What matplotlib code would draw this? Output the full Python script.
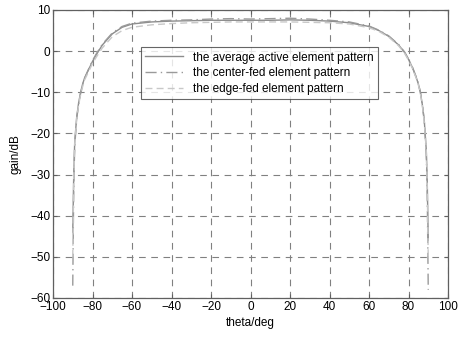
import numpy as np
import matplotlib
matplotlib.use("Agg")
import matplotlib.pyplot as plt

plt.rcParams['font.family'] = ['Liberation Sans', 'DejaVu Sans']

# angles (deg)
theta = [-90, -89.5, -89, -88, -87, -86, -85, -84, -82, -80, -78, -75, -70,
         -65, -60, -50, -40, -30, -20, -10, 0, 10, 20, 30, 40, 50, 60, 65,
         70, 75, 78, 80, 82, 84, 85, 86, 87, 88, 89, 89.5, 90]

avg_gain = [-44, -30, -22, -16, -12.5, -10, -8, -6.5, -4.5, -2.5, -0.8, 1.5,
            4.2, 5.8, 6.6, 7.1, 7.3, 7.4, 7.5, 7.5, 7.5, 7.5, 7.6, 7.5, 7.3,
            6.9, 6.0, 5.0, 3.6, 1.5, -0.3, -2.0, -4.0, -6.5, -8.0, -10, -13,
            -17, -24, -32, -46]

center_gain = [-57, -33, -23, -16.5, -12.8, -10.2, -8.2, -6.6, -4.4, -2.3,
               -0.6, 1.7, 4.4, 6.0, 6.8, 7.3, 7.5, 7.6, 7.8, 7.9, 7.8, 7.9,
               8.0, 7.8, 7.5, 7.1, 6.1, 5.1, 3.7, 1.6, -0.2, -1.9, -3.9,
               -6.4, -7.9, -9.9, -12.9, -17, -25, -35, -58]

edge_gain = [-50, -31, -22.5, -16.5, -13, -10.5, -8.6, -7.0, -5.0, -3.0,
             -1.4, 0.8, 3.5, 5.0, 5.8, 6.4, 6.7, 6.9, 7.0, 7.1, 7.1, 7.1,
             7.1, 7.0, 6.9, 6.6, 5.7, 4.8, 3.4, 1.3, -0.5, -2.2, -4.2, -6.7,
             -8.2, -10.2, -13.2, -17.5, -24, -33, -50]

labels = ['the average active element pattern',
          'the center-fed element pattern',
          'the edge-fed element pattern']

fig = plt.figure(figsize=(4.74, 3.38), dpi=100)
ax = fig.add_axes([53 / 474, 40 / 338, 395 / 474, 288 / 338])

ax.plot(theta, avg_gain, color='#8c8c8c', lw=1.0, ls='-', label=labels[0])
ax.plot(theta, center_gain, color='#9a9a9a', lw=1.0, ls=(0, (8, 3, 1, 3)),
        label=labels[1])
ax.plot(theta, edge_gain, color='#c8c8c8', lw=1.0, ls=(0, (5, 3)),
        label=labels[2])

ax.set_xlim(-100, 100)
ax.set_ylim(-60, 10)
ax.set_xticks(np.arange(-100, 101, 20))
ax.set_yticks(np.arange(-60, 11, 10))
ax.grid(True, ls=(0, (6, 5)), color='#808080', lw=0.8)
ax.tick_params(direction='in', top=True, right=True, labelsize=8.5,
               color='#606060', length=3, pad=2)
for s in ax.spines.values():
    s.set_color('#606060')
    s.set_linewidth(0.9)

ax.set_xlabel('theta/deg', fontsize=8.5, labelpad=3)
ax.set_ylabel('gain/dB', fontsize=8.5, labelpad=6)

leg = ax.legend(loc='upper left', bbox_to_anchor=(0.222, 0.872), fontsize=8.5,
                frameon=True, fancybox=False, edgecolor='#404040',
                handlelength=3.2, borderpad=0.4, labelspacing=0.3,
                borderaxespad=0)
leg.get_frame().set_linewidth(0.8)

fig.savefig('out.png', dpi=100)
